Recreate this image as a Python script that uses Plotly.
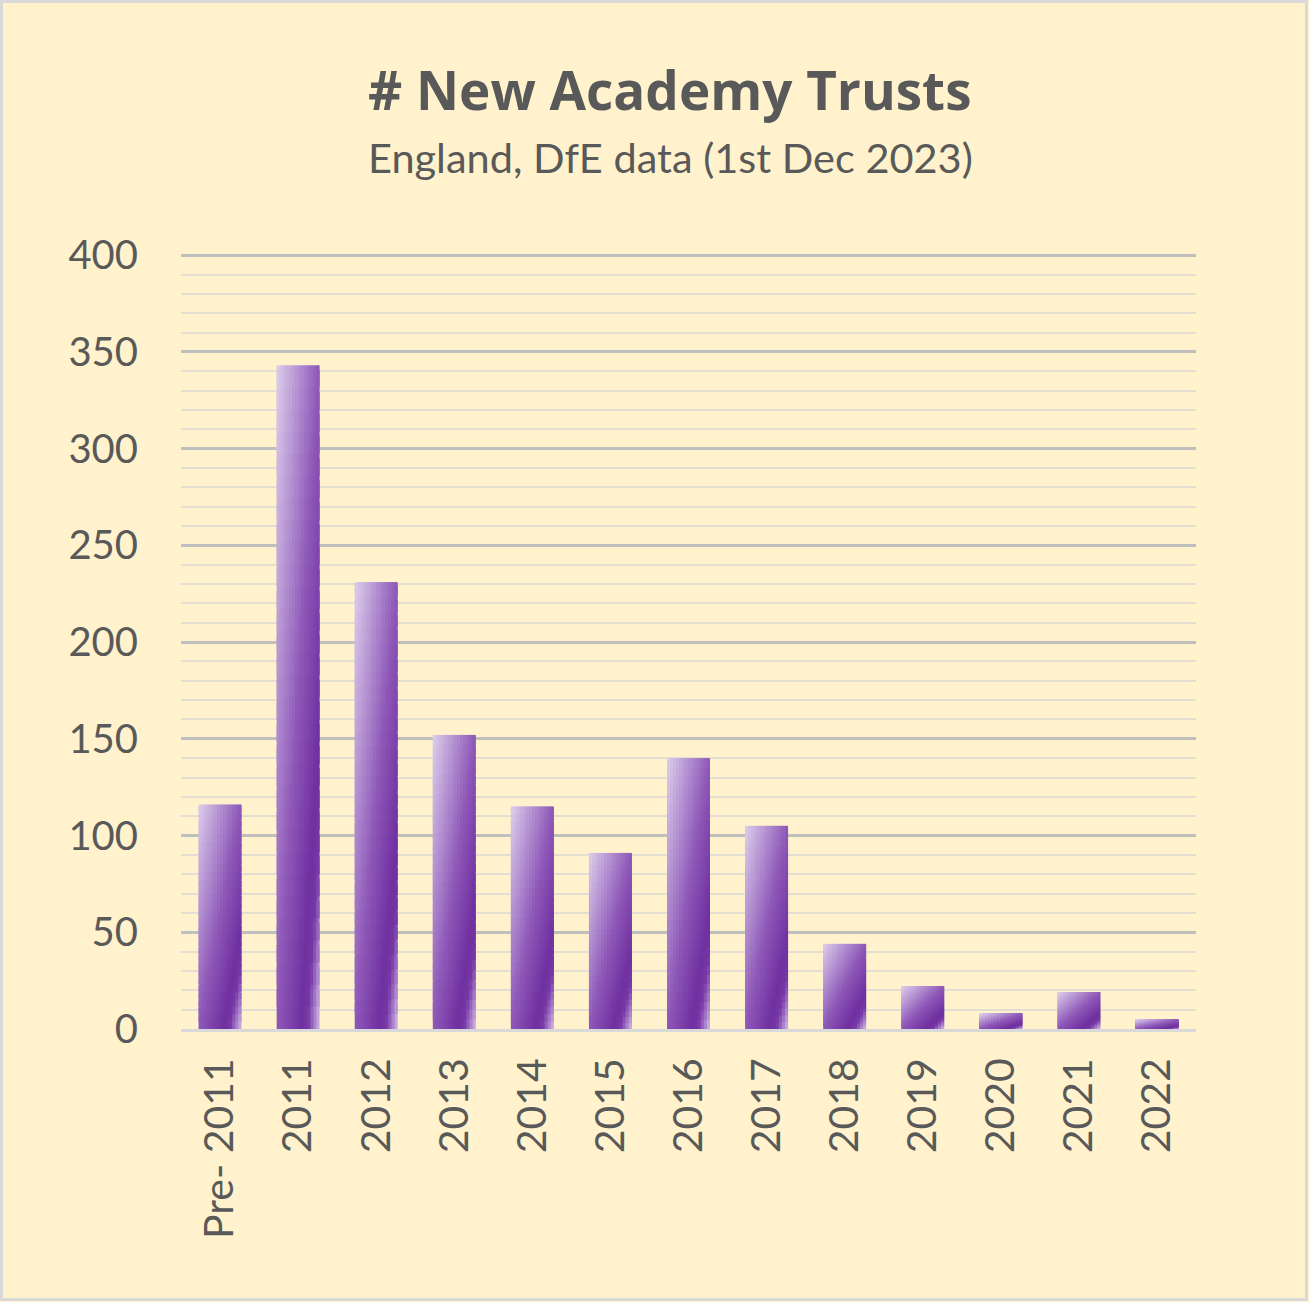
import plotly.graph_objects as go

# ---- data ----
categories = ["Pre- 2011", "2011", "2012", "2013", "2014", "2015", "2016",
              "2017", "2018", "2019", "2020", "2021", "2022"]
new_trusts = [116, 343, 231, 152, 115, 91, 140, 105, 44, 22, 8, 19, 5]

title_text = "<b># New Academy Trusts</b>"
subtitle_text = "England, DfE data (1st Dec 2023)"

# ---- layout constants ----
W, H = 1309, 1302
L, R, T, B = 181, 113, 254, 273
PW, PH = W - L - R, H - T - B
BG = "#FFF2CC"
TXT = "#595959"
FONT = "Lato"

# ---- gradient bars (cells built from data) ----
BAR_W = 0.55
K, J = 14, 30
stops = [(0.0, (0xDD, 0xCF, 0xEC)),
         (0.50, (0x8E, 0x58, 0xB8)),
         (0.78, (0x70, 0x30, 0xA0)),
         (0.86, (0x76, 0x38, 0xA6)),
         (1.0, (0xD6, 0xC0, 0xEA))]


def grad(t):
    for (t0, c0), (t1, c1) in zip(stops[:-1], stops[1:]):
        if t <= t1:
            f = (t - t0) / (t1 - t0)
            c = [round(c0[i] + (c1[i] - c0[i]) * f) for i in range(3)]
            return "rgb(%d,%d,%d)" % tuple(c)
    return "rgb(%d,%d,%d)" % stops[-1][1]


OV = 0.8  # overlap fraction to hide seams between cells
xs, ys, bases, offs, wids, cols = [], [], [], [], [], []
for cat, val in zip(categories, new_trusts):
    for k in range(K):
        u = (k + 0.5) / K
        for j in range(J):
            v = 1 - (j + 0.5) / J
            xs.append(cat)
            ys.append(val / J * (1 + (OV if j < J - 1 else 0)))
            bases.append(val * j / J)
            offs.append(-BAR_W / 2 + k * BAR_W / K)
            wids.append(BAR_W / K * (1 + (OV if k < K - 1 else 0)))
            cols.append(grad((u + v) / 2))

fig = go.Figure()
fig.add_trace(go.Bar(
    x=xs, y=ys, base=bases, offset=offs, width=wids,
    marker=dict(color=cols, line=dict(width=0)),
    hoverinfo="skip", showlegend=False,
))

fig.update_layout(
    width=W, height=H,
    margin=dict(l=L, r=R, t=T, b=B),
    paper_bgcolor=BG, plot_bgcolor=BG,
    barmode="overlay",
    font=dict(family=FONT, color=TXT),
    showlegend=False,
    xaxis=dict(
        type="category", categoryorder="array", categoryarray=categories,
        tickangle=-90, tickfont=dict(size=41, color=TXT, family=FONT),
        showgrid=False, showline=True, linecolor="#D9D9D9", linewidth=2.5,
        ticks="", ticklabelstandoff=10, fixedrange=True,
    ),
    yaxis=dict(
        range=[0, 400.6], dtick=50, tick0=0,
        tickfont=dict(size=40, color=TXT, family=FONT),
        showgrid=True, gridcolor="#BFBFBF", gridwidth=2.5,
        zeroline=False, showline=False, ticks="", ticklabelstandoff=42,
        minor=dict(dtick=10, tick0=0, showgrid=True, gridcolor="#E3DED2", gridwidth=2),
        fixedrange=True,
    ),
    annotations=[
        dict(text=title_text, xref="paper", yref="paper",
             x=(669 - L) / PW, y=(H - B - 90) / PH, xanchor="center", yanchor="middle",
             showarrow=False, font=dict(size=53, color=TXT, family="Open Sans")),
        dict(text=subtitle_text, xref="paper", yref="paper",
             x=(670 - L) / PW, y=(H - B - 157) / PH, xanchor="center", yanchor="middle",
             showarrow=False, font=dict(size=41.5, color=TXT, family=FONT)),
    ],
    shapes=[
        dict(type="rect", xref="paper", yref="paper",
             x0=(1.5 - L) / PW, x1=(W - 2.5 - L) / PW,
             y0=(H - B - (H - 2.5)) / PH, y1=(H - B - 1.5) / PH,
             line=dict(color="#D9D9D9", width=3), fillcolor="rgba(0,0,0,0)", layer="above"),
    ],
)

fig.write_html("out.html")
